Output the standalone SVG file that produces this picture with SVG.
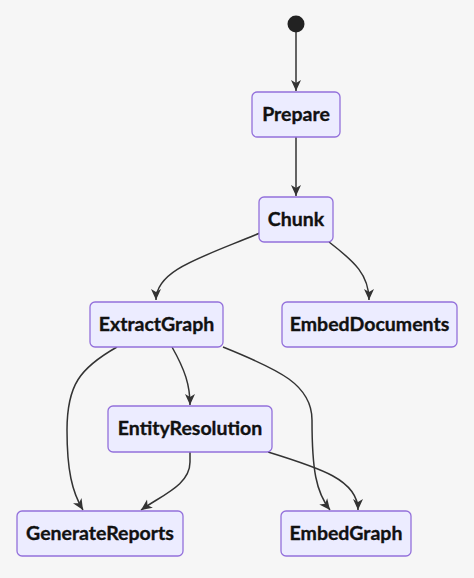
<svg xmlns="http://www.w3.org/2000/svg" width="474" height="578" viewBox="0 0 474 578">
<style>
.node rect{fill:#ECECFF;stroke:#9370DB;stroke-width:1.3}
.node text{font-family:Lato,"DejaVu Sans",sans-serif;font-weight:bold;font-size:19.5px;fill:#111;stroke:#111;stroke-width:0.35;text-anchor:middle}
.edges path{fill:none;stroke:#333;stroke-width:1.5;marker-end:url(#arr)}
</style>
<defs>
<marker id="arr" viewBox="0 0 12 12" refX="11" refY="6" markerWidth="12" markerHeight="12" markerUnits="userSpaceOnUse" orient="auto">
<path d="M0,1 L11,6 L0,11 L3,6 z" fill="#333"/>
</marker>
</defs>
<rect width="474" height="578" fill="#f6f6f6"/>
<g id="start"><circle cx="296" cy="24" r="8.5" fill="#222"/></g>
<g class="edges" id="connectors">
<path d="M296,32 L296,91"/>
<path d="M296,137 L296,196"/>
<path d="M260,233 C200,258 156,270 156,300"/>
<path d="M329,242 C355,262 369,275 369,300"/>
<path d="M172,347 C185,370 190,385 190,405"/>
<path d="M117,347 C80,368 67,385 67,430 C67,470 72,492 83,510"/>
<path d="M223,347 C280,370 312,385 312,420 C312,470 316,492 330,510"/>
<path d="M190,452 L190,462 C190,485 162,495 141,510"/>
<path d="M268,452 C320,468 358,480 358,510"/>
</g>
<g class="node" id="Prepare"><rect x="252" y="92" width="88" height="45" rx="5"/><text x="296" y="121">Prepare</text></g>
<g class="node" id="Chunk"><rect x="259" y="197" width="74" height="45" rx="5"/><text x="296" y="226">Chunk</text></g>
<g class="node" id="ExtractGraph"><rect x="90" y="302" width="133" height="45" rx="5"/><text x="156.5" y="331">ExtractGraph</text></g>
<g class="node" id="EmbedDocuments"><rect x="282" y="302" width="175" height="45" rx="5"/><text x="369.5" y="331">EmbedDocuments</text></g>
<g class="node" id="EntityResolution"><rect x="108" y="406" width="164" height="46" rx="5"/><text x="190" y="435">EntityResolution</text></g>
<g class="node" id="GenerateReports"><rect x="17" y="511" width="166" height="45" rx="5"/><text x="100" y="540">GenerateReports</text></g>
<g class="node" id="EmbedGraph"><rect x="281" y="511" width="130" height="45" rx="5"/><text x="346" y="540">EmbedGraph</text></g>
</svg>
